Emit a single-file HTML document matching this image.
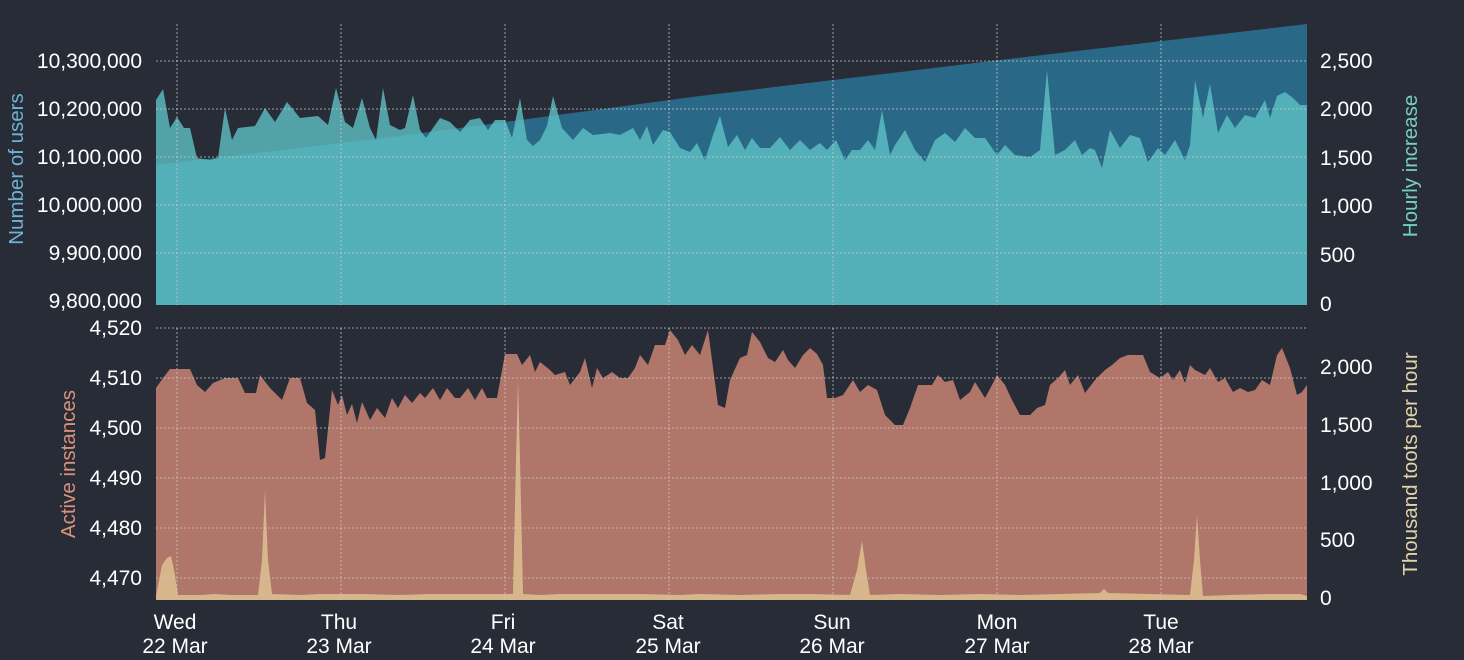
<!DOCTYPE html>
<html><head><style>
html,body{margin:0;padding:0;background:#282c37;}
svg{display:block;font-family:"Liberation Sans",sans-serif;}
.t{fill:#fff;font-size:21px;}
.g{stroke:#c8c8c8;stroke-opacity:.75;stroke-width:1;stroke-dasharray:2,2;fill:none}
</style></head><body>
<svg width="1464" height="660" viewBox="0 0 1464 660">
<rect width="1464" height="660" fill="#282c37"/>
<polygon fill="#2a6888" points="156,305 156,165 400,136 700,96 1000,60 1307,24 1307,305"/>
<polygon fill="#5ec0c4" fill-opacity="0.8" points="156,305 156,100 163,89 170,128 177,117 184,128 190,128 197,158 210,160 218,158 225,108 232,140 238,128 255,126 265,108 275,122 287,102 300,118 318,116 328,125 336,88 345,122 353,128 362,98 370,128 376,140 383,88 390,125 400,130 405,128 413,95 420,130 426,138 440,118 450,122 460,132 470,120 480,118 488,130 495,120 505,120 512,138 520,98 527,140 533,146 540,140 547,126 553,96 562,128 573,140 583,128 593,135 610,133 620,135 633,128 640,140 647,126 653,145 663,130 670,132 680,148 690,152 697,143 705,160 713,135 720,116 728,147 737,135 745,150 752,138 760,148 770,148 780,137 790,150 800,140 810,150 820,143 827,150 836,140 845,160 852,150 860,150 868,140 875,150 882,110 890,155 895,145 905,130 915,150 925,162 935,140 945,133 955,142 965,128 975,138 985,138 997,155 1005,145 1015,155 1030,157 1040,150 1047,70 1055,155 1065,150 1075,140 1082,155 1090,148 1095,150 1102,168 1110,130 1120,148 1130,135 1140,138 1148,162 1158,148 1165,155 1175,140 1185,160 1190,145 1195,80 1203,118 1210,84 1218,133 1227,115 1235,128 1245,115 1255,118 1265,100 1270,118 1277,96 1285,92 1293,98 1300,105 1307,105 1307,305"/>
<g class="g">
<path d="M156,61H1307M156,109H1307M156,157H1307M156,205H1307M156,253H1307"/>
<path d="M177,24V305M341,24V305M505,24V305M669,24V305M833,24V305M997,24V305M1161,24V305"/>
</g>
<g class="t" text-anchor="end">
<text x="142" y="68">10,300,000</text><text x="142" y="116">10,200,000</text><text x="142" y="164">10,100,000</text><text x="142" y="212">10,000,000</text><text x="142" y="260">9,900,000</text><text x="142" y="308">9,800,000</text>
</g>
<g class="t">
<text x="1320" y="68">2,500</text><text x="1320" y="116">2,000</text><text x="1320" y="165">1,500</text><text x="1320" y="213">1,000</text><text x="1320" y="262">500</text><text x="1320" y="311">0</text>
</g>
<text transform="translate(23,169) rotate(-90)" text-anchor="middle" fill="#6db3d4" font-size="20.5">Number of users</text>
<text transform="translate(1417,166) rotate(-90)" text-anchor="middle" fill="#76cfc4" font-size="20.5">Hourly increase</text>

<polygon fill="#b0766a" points="156,600 156,388 163,378 170,369 190,369 197,385 205,392 213,383 225,378 238,378 245,393 256,393 260,375 270,388 282,400 290,378 300,378 307,403 315,410 320,460 325,458 332,390 338,405 342,395 347,415 352,404 357,423 362,402 370,420 377,408 385,418 392,398 398,408 405,395 412,403 420,393 425,398 433,388 440,400 447,388 455,398 460,398 468,388 475,400 482,388 487,398 497,398 505,354 517,354 522,365 530,355 535,372 540,362 550,370 555,375 565,372 570,385 580,372 585,358 592,388 597,368 603,378 612,372 620,378 628,378 635,368 640,355 648,365 655,345 665,345 670,330 678,340 685,355 692,345 700,355 708,330 712,360 718,405 725,408 730,380 740,358 747,355 752,332 760,342 768,358 775,362 783,350 788,360 795,368 803,355 810,348 817,354 823,365 827,398 835,398 843,395 853,380 860,392 868,385 877,390 885,415 895,425 903,425 910,408 918,385 932,385 938,375 945,382 953,380 960,400 970,392 975,382 985,398 992,385 997,375 1005,385 1012,400 1020,415 1030,415 1037,408 1045,405 1050,385 1058,378 1065,370 1070,385 1078,375 1085,393 1095,380 1105,370 1112,365 1120,358 1128,355 1143,355 1150,372 1160,378 1168,372 1173,380 1180,370 1185,383 1190,365 1195,370 1205,375 1210,368 1218,382 1225,378 1233,392 1240,388 1248,392 1255,390 1262,380 1270,385 1277,355 1282,348 1290,368 1297,395 1302,392 1307,385 1307,600"/>
<polygon fill="#d8b68c" points="156,600 156,596 162,565 167,558 171,556 175,575 178,595 200,595 215,594 230,595 258,595 262,560 265,490 268,560 272,594 300,595 320,594 360,594 400,595 430,594 460,594 500,594 513,594 516,460 518,380 520,460 523,594 540,595 560,594 600,594 640,594 680,595 700,594 740,595 780,594 810,594 850,595 857,570 862,541 866,570 870,595 900,594 940,595 980,594 1020,595 1060,594 1100,593 1104,589 1108,593 1150,594 1190,595 1194,560 1197,515 1200,560 1203,596 1230,595 1270,594 1300,594 1307,596 1307,600"/>
<g class="g">
<path d="M156,328H1307M156,378H1307M156,428H1307M156,478H1307M156,528H1307M156,578H1307"/>
<path d="M177,328V600M341,328V600M505,328V600M669,328V600M833,328V600M997,328V600M1161,328V600"/>
</g>
<g class="t" text-anchor="end">
<text x="142" y="335">4,520</text><text x="142" y="385">4,510</text><text x="142" y="435">4,500</text><text x="142" y="485">4,490</text><text x="142" y="535">4,480</text><text x="142" y="585">4,470</text>
</g>
<g class="t">
<text x="1320" y="374">2,000</text><text x="1320" y="432">1,500</text><text x="1320" y="490">1,000</text><text x="1320" y="547">500</text><text x="1320" y="605">0</text>
</g>
<text transform="translate(75,464) rotate(-90)" text-anchor="middle" fill="#d9917c" font-size="20.5">Active instances</text>
<text transform="translate(1417,464) rotate(-90)" text-anchor="middle" fill="#e3d3aa" font-size="20.5">Thousand toots per hour</text>

<g class="t" text-anchor="middle">
<text x="175" y="629">Wed</text><text x="175" y="653">22 Mar</text>
<text x="339" y="629">Thu</text><text x="339" y="653">23 Mar</text>
<text x="503" y="629">Fri</text><text x="503" y="653">24 Mar</text>
<text x="668" y="629">Sat</text><text x="668" y="653">25 Mar</text>
<text x="832" y="629">Sun</text><text x="832" y="653">26 Mar</text>
<text x="997" y="629">Mon</text><text x="997" y="653">27 Mar</text>
<text x="1161" y="629">Tue</text><text x="1161" y="653">28 Mar</text>
</g>
</svg>
</body></html>
